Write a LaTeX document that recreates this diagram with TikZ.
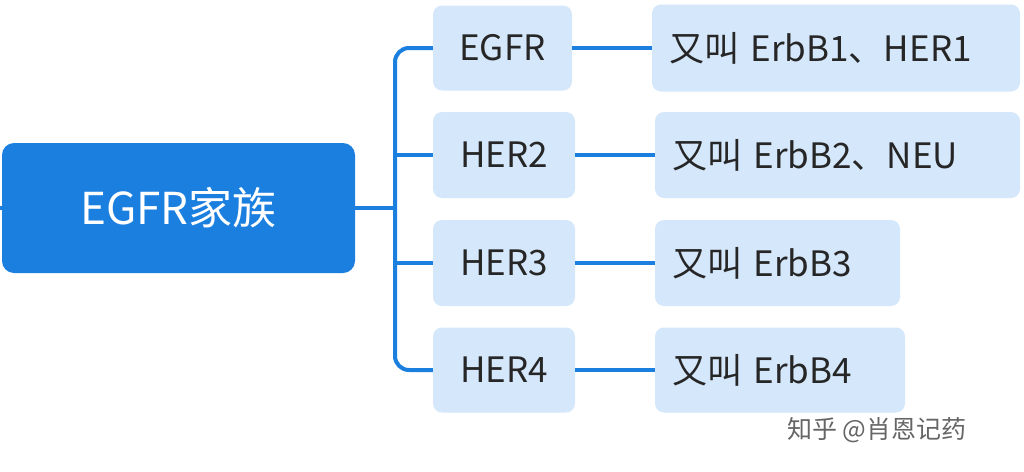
\documentclass[tikz,border=0pt]{standalone}
\usepackage{fontspec}
\setmainfont{Noto Sans CJK SC}
\begin{document}
\begin{tikzpicture}[x=1pt,y=-1pt,
  lb/.style={fill=light,rounded corners=9pt,font=\fontsize{35}{38}\selectfont,text=black!85},
  lf/.style={lb,align=left,inner xsep=17pt},
  ln/.style={draw=mainb,line width=4pt}]
\definecolor{mainb}{HTML}{1B7FE0}
\definecolor{light}{HTML}{D5E7FA}
\useasboundingbox (0,0) rectangle (1024,471);
\fill[white] (0,0) rectangle (1024,471);
\node[fill=mainb,rounded corners=12pt,minimum width=353pt,minimum height=130pt,text=white,font=\fontsize{44}{48}\selectfont] (root) at (178.5,208) {EGFR家族};
\node[lb,minimum width=139pt,minimum height=85pt] (c1) at (502.5,48) {EGFR};
\node[lb,minimum width=142pt,minimum height=86pt] (c2) at (504,155) {HER2};
\node[lb,minimum width=142pt,minimum height=86pt] (c3) at (504,263) {HER3};
\node[lb,minimum width=142pt,minimum height=85pt] (c4) at (504,370) {HER4};
\node[lf,text width=334pt,minimum height=87pt] (l1) at (836,48) {又叫 ErbB1、HER1};
\node[lf,text width=331pt,minimum height=86pt] (l2) at (837.5,155) {又叫 ErbB2、NEU};
\node[lf,text width=211pt,minimum height=86pt] (l3) at (777.5,263) {又叫 ErbB3};
\node[lf,text width=216pt,minimum height=85pt] (l4) at (780,370) {又叫 ErbB4};
\coordinate (t) at (395,208);
\draw[ln] (root.east) -- (t);
\draw[ln,rounded corners=14pt] (c1.west) -- (395,48) -- (395,370) -- (c4.west);
\draw[ln] (395,155) -- (c2.west);
\draw[ln] (395,263) -- (c3.west);
\foreach \i in {1,2,3,4} \draw[ln] (c\i.east) -- (l\i.west);
\draw[ln] (0,208) -- (root.west);
\node[text=black!60,font=\fontsize{25}{28}\selectfont] (wm) at (877,430) {知乎 @肖恩记药};
\end{tikzpicture}
\end{document}
